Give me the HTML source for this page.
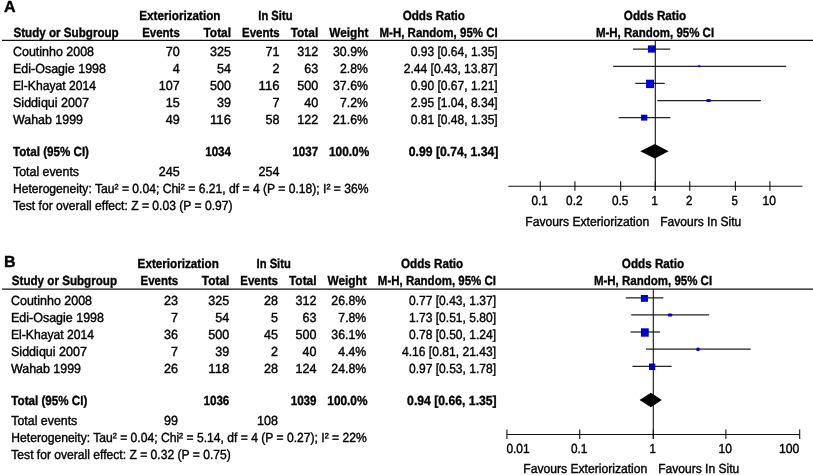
<!DOCTYPE html>
<html><head><meta charset="utf-8"><title>Forest plot</title>
<style>
html,body{margin:0;padding:0;background:#fff;}
body{width:813px;height:475px;overflow:hidden;}
svg{display:block;font-family:"Liberation Sans", Arial, Helvetica, sans-serif;font-size:13.2px;fill:#000;text-rendering:geometricPrecision;}
text{stroke:#000;stroke-width:0.4px;}
text[font-weight=bold]{stroke-width:0.35px;}
</style></head><body>
<svg width="813" height="475" viewBox="0 0 813 475">
<rect width="813" height="475" fill="#fff"/>
<text x="4.00" y="12.00" font-weight="bold" font-size="16">A</text>
<text x="139.30" y="19.70" font-weight="bold" textLength="81.2" lengthAdjust="spacingAndGlyphs">Exteriorization</text>
<text x="258.30" y="19.70" font-weight="bold" textLength="34.2" lengthAdjust="spacingAndGlyphs">In Situ</text>
<text x="433.80" y="19.70" text-anchor="middle" font-weight="bold" textLength="62.3" lengthAdjust="spacingAndGlyphs">Odds Ratio</text>
<text x="655.00" y="19.70" text-anchor="middle" font-weight="bold" textLength="62.3" lengthAdjust="spacingAndGlyphs">Odds Ratio</text>
<text x="13.50" y="36.60" font-weight="bold" textLength="105.2" lengthAdjust="spacingAndGlyphs">Study or Subgroup</text>
<text x="179.80" y="36.60" text-anchor="end" font-weight="bold" textLength="37.6" lengthAdjust="spacingAndGlyphs">Events</text>
<text x="231.00" y="36.60" text-anchor="end" font-weight="bold" textLength="27.5" lengthAdjust="spacingAndGlyphs">Total</text>
<text x="279.60" y="36.60" text-anchor="end" font-weight="bold" textLength="37.6" lengthAdjust="spacingAndGlyphs">Events</text>
<text x="318.20" y="36.60" text-anchor="end" font-weight="bold" textLength="27.5" lengthAdjust="spacingAndGlyphs">Total</text>
<text x="368.40" y="36.60" text-anchor="end" font-weight="bold" textLength="39.1" lengthAdjust="spacingAndGlyphs">Weight</text>
<text x="497.70" y="36.60" text-anchor="end" font-weight="bold" textLength="118.2" lengthAdjust="spacingAndGlyphs">M-H, Random, 95% CI</text>
<text x="655.00" y="36.60" text-anchor="middle" font-weight="bold" textLength="118.2" lengthAdjust="spacingAndGlyphs">M-H, Random, 95% CI</text>
<line x1="2.00" y1="40.40" x2="813.00" y2="40.40" stroke="#111" stroke-width="1.1"/>
<text x="13.00" y="55.80" textLength="81" lengthAdjust="spacingAndGlyphs">Coutinho 2008</text>
<text x="179.80" y="55.80" text-anchor="end" textLength="14" lengthAdjust="spacingAndGlyphs">70</text>
<text x="231.00" y="55.80" text-anchor="end" textLength="21" lengthAdjust="spacingAndGlyphs">325</text>
<text x="279.60" y="55.80" text-anchor="end" textLength="14" lengthAdjust="spacingAndGlyphs">71</text>
<text x="318.20" y="55.80" text-anchor="end" textLength="21" lengthAdjust="spacingAndGlyphs">312</text>
<text x="368.00" y="55.80" text-anchor="end" textLength="35" lengthAdjust="spacingAndGlyphs">30.9%</text>
<text x="497.70" y="55.80" text-anchor="end" textLength="87" lengthAdjust="spacingAndGlyphs">0.93 [0.64, 1.35]</text>
<line x1="633.01" y1="49.00" x2="670.24" y2="49.00" stroke="#222" stroke-width="1.25"/>
<rect x="647.93" y="45.40" width="7.50" height="7.20" fill="#0000cc" rx="0"/>
<text x="13.00" y="72.90" textLength="93" lengthAdjust="spacingAndGlyphs">Edi-Osagie 1998</text>
<text x="179.80" y="72.90" text-anchor="end" textLength="7" lengthAdjust="spacingAndGlyphs">4</text>
<text x="231.00" y="72.90" text-anchor="end" textLength="14" lengthAdjust="spacingAndGlyphs">54</text>
<text x="279.60" y="72.90" text-anchor="end" textLength="7" lengthAdjust="spacingAndGlyphs">2</text>
<text x="318.20" y="72.90" text-anchor="end" textLength="14" lengthAdjust="spacingAndGlyphs">63</text>
<text x="368.00" y="72.90" text-anchor="end" textLength="28" lengthAdjust="spacingAndGlyphs">2.8%</text>
<text x="497.70" y="72.90" text-anchor="end" textLength="94" lengthAdjust="spacingAndGlyphs">2.44 [0.43, 13.87]</text>
<line x1="613.15" y1="66.35" x2="786.18" y2="66.35" stroke="#222" stroke-width="1.25"/>
<rect x="697.69" y="65.35" width="3.00" height="2.00" fill="#0000cc" rx="1"/>
<text x="13.00" y="90.00" textLength="83" lengthAdjust="spacingAndGlyphs">El-Khayat 2014</text>
<text x="179.80" y="90.00" text-anchor="end" textLength="21" lengthAdjust="spacingAndGlyphs">107</text>
<text x="231.00" y="90.00" text-anchor="end" textLength="21" lengthAdjust="spacingAndGlyphs">500</text>
<text x="279.60" y="90.00" text-anchor="end" textLength="21" lengthAdjust="spacingAndGlyphs">116</text>
<text x="318.20" y="90.00" text-anchor="end" textLength="21" lengthAdjust="spacingAndGlyphs">500</text>
<text x="368.00" y="90.00" text-anchor="end" textLength="35" lengthAdjust="spacingAndGlyphs">37.6%</text>
<text x="497.70" y="90.00" text-anchor="end" textLength="87" lengthAdjust="spacingAndGlyphs">0.90 [0.67, 1.21]</text>
<line x1="635.30" y1="83.40" x2="664.79" y2="83.40" stroke="#222" stroke-width="1.25"/>
<rect x="646.04" y="79.70" width="8.00" height="8.40" fill="#0000cc" rx="0"/>
<text x="13.00" y="107.10" textLength="76" lengthAdjust="spacingAndGlyphs">Siddiqui 2007</text>
<text x="179.80" y="107.10" text-anchor="end" textLength="14" lengthAdjust="spacingAndGlyphs">15</text>
<text x="231.00" y="107.10" text-anchor="end" textLength="14" lengthAdjust="spacingAndGlyphs">39</text>
<text x="279.60" y="107.10" text-anchor="end" textLength="7" lengthAdjust="spacingAndGlyphs">7</text>
<text x="318.20" y="107.10" text-anchor="end" textLength="14" lengthAdjust="spacingAndGlyphs">40</text>
<text x="368.00" y="107.10" text-anchor="end" textLength="28" lengthAdjust="spacingAndGlyphs">7.2%</text>
<text x="497.70" y="107.10" text-anchor="end" textLength="87" lengthAdjust="spacingAndGlyphs">2.95 [1.04, 8.34]</text>
<line x1="657.25" y1="100.55" x2="760.87" y2="100.55" stroke="#222" stroke-width="1.25"/>
<rect x="706.14" y="99.05" width="5.00" height="3.00" fill="#0000cc" rx="1.5"/>
<text x="13.00" y="124.20" textLength="70" lengthAdjust="spacingAndGlyphs">Wahab 1999</text>
<text x="179.80" y="124.20" text-anchor="end" textLength="14" lengthAdjust="spacingAndGlyphs">49</text>
<text x="231.00" y="124.20" text-anchor="end" textLength="21" lengthAdjust="spacingAndGlyphs">116</text>
<text x="279.60" y="124.20" text-anchor="end" textLength="14" lengthAdjust="spacingAndGlyphs">58</text>
<text x="318.20" y="124.20" text-anchor="end" textLength="21" lengthAdjust="spacingAndGlyphs">122</text>
<text x="368.00" y="124.20" text-anchor="end" textLength="35" lengthAdjust="spacingAndGlyphs">21.6%</text>
<text x="497.70" y="124.20" text-anchor="end" textLength="87" lengthAdjust="spacingAndGlyphs">0.81 [0.48, 1.35]</text>
<line x1="618.64" y1="117.65" x2="670.24" y2="117.65" stroke="#222" stroke-width="1.25"/>
<rect x="641.03" y="114.70" width="6.30" height="5.90" fill="#0000cc" rx="0"/>
<text x="13.00" y="156.00" font-weight="bold" textLength="76" lengthAdjust="spacingAndGlyphs">Total (95% CI)</text>
<text x="231.00" y="156.00" text-anchor="end" font-weight="bold" textLength="25.8" lengthAdjust="spacingAndGlyphs">1034</text>
<text x="318.20" y="156.00" text-anchor="end" font-weight="bold" textLength="25.8" lengthAdjust="spacingAndGlyphs">1037</text>
<text x="369.20" y="156.00" text-anchor="end" font-weight="bold" textLength="40.2" lengthAdjust="spacingAndGlyphs">100.0%</text>
<text x="498.40" y="156.00" text-anchor="end" font-weight="bold" textLength="89.6" lengthAdjust="spacingAndGlyphs">0.99 [0.74, 1.34]</text>
<polygon points="640.26,151.30 654.80,144.10 668.60,151.30 654.80,158.50" fill="#000"/>
<text x="13.00" y="175.80" textLength="66" lengthAdjust="spacingAndGlyphs">Total events</text>
<text x="179.80" y="175.80" text-anchor="end" textLength="21" lengthAdjust="spacingAndGlyphs">245</text>
<text x="279.60" y="175.80" text-anchor="end" textLength="21" lengthAdjust="spacingAndGlyphs">254</text>
<text x="13.00" y="192.80" textLength="355.5" lengthAdjust="spacingAndGlyphs">Heterogeneity: Tau² = 0.04; Chi² = 6.21, df = 4 (P = 0.18); I² = 36%</text>
<text x="13.00" y="209.80" textLength="219.5" lengthAdjust="spacingAndGlyphs">Test for overall effect: Z = 0.03 (P = 0.97)</text>
<line x1="508.30" y1="186.30" x2="802.40" y2="186.30" stroke="#111" stroke-width="1.1"/>
<line x1="655.30" y1="40.40" x2="655.30" y2="190.70" stroke="#111" stroke-width="1.1"/>
<line x1="540.30" y1="181.30" x2="540.30" y2="190.70" stroke="#111" stroke-width="1.1"/>
<text x="539.70" y="205.00" text-anchor="middle" textLength="16.4" lengthAdjust="spacingAndGlyphs">0.1</text>
<line x1="574.92" y1="181.30" x2="574.92" y2="190.70" stroke="#111" stroke-width="1.1"/>
<text x="574.32" y="205.00" text-anchor="middle" textLength="16.4" lengthAdjust="spacingAndGlyphs">0.2</text>
<line x1="620.68" y1="181.30" x2="620.68" y2="190.70" stroke="#111" stroke-width="1.1"/>
<text x="620.08" y="205.00" text-anchor="middle" textLength="16.4" lengthAdjust="spacingAndGlyphs">0.5</text>
<line x1="655.30" y1="181.30" x2="655.30" y2="190.70" stroke="#111" stroke-width="1.1"/>
<text x="654.70" y="205.00" text-anchor="middle" textLength="6.4" lengthAdjust="spacingAndGlyphs">1</text>
<line x1="689.80" y1="181.30" x2="689.80" y2="190.70" stroke="#111" stroke-width="1.1"/>
<text x="689.20" y="205.00" text-anchor="middle" textLength="6.4" lengthAdjust="spacingAndGlyphs">2</text>
<line x1="735.40" y1="181.30" x2="735.40" y2="190.70" stroke="#111" stroke-width="1.1"/>
<text x="734.80" y="205.00" text-anchor="middle" textLength="6.4" lengthAdjust="spacingAndGlyphs">5</text>
<line x1="769.90" y1="181.30" x2="769.90" y2="190.70" stroke="#111" stroke-width="1.1"/>
<text x="769.30" y="205.00" text-anchor="middle" textLength="13.4" lengthAdjust="spacingAndGlyphs">10</text>
<text x="649.30" y="225.60" text-anchor="end" textLength="124" lengthAdjust="spacingAndGlyphs">Favours Exteriorization</text>
<text x="660.20" y="225.60" textLength="81" lengthAdjust="spacingAndGlyphs">Favours In Situ</text>
<text x="4.00" y="266.50" font-weight="bold" font-size="16">B</text>
<text x="137.60" y="268.40" font-weight="bold" textLength="81.2" lengthAdjust="spacingAndGlyphs">Exteriorization</text>
<text x="256.60" y="268.40" font-weight="bold" textLength="34.2" lengthAdjust="spacingAndGlyphs">In Situ</text>
<text x="432.10" y="268.40" text-anchor="middle" font-weight="bold" textLength="62.3" lengthAdjust="spacingAndGlyphs">Odds Ratio</text>
<text x="653.00" y="268.40" text-anchor="middle" font-weight="bold" textLength="62.3" lengthAdjust="spacingAndGlyphs">Odds Ratio</text>
<text x="11.80" y="285.30" font-weight="bold" textLength="105.2" lengthAdjust="spacingAndGlyphs">Study or Subgroup</text>
<text x="178.10" y="285.30" text-anchor="end" font-weight="bold" textLength="37.6" lengthAdjust="spacingAndGlyphs">Events</text>
<text x="229.30" y="285.30" text-anchor="end" font-weight="bold" textLength="27.5" lengthAdjust="spacingAndGlyphs">Total</text>
<text x="277.90" y="285.30" text-anchor="end" font-weight="bold" textLength="37.6" lengthAdjust="spacingAndGlyphs">Events</text>
<text x="316.50" y="285.30" text-anchor="end" font-weight="bold" textLength="27.5" lengthAdjust="spacingAndGlyphs">Total</text>
<text x="366.70" y="285.30" text-anchor="end" font-weight="bold" textLength="39.1" lengthAdjust="spacingAndGlyphs">Weight</text>
<text x="496.00" y="285.30" text-anchor="end" font-weight="bold" textLength="118.2" lengthAdjust="spacingAndGlyphs">M-H, Random, 95% CI</text>
<text x="653.00" y="285.30" text-anchor="middle" font-weight="bold" textLength="118.2" lengthAdjust="spacingAndGlyphs">M-H, Random, 95% CI</text>
<line x1="2.00" y1="289.10" x2="813.00" y2="289.10" stroke="#111" stroke-width="1.1"/>
<text x="11.00" y="304.50" textLength="81" lengthAdjust="spacingAndGlyphs">Coutinho 2008</text>
<text x="178.10" y="304.50" text-anchor="end" textLength="14" lengthAdjust="spacingAndGlyphs">23</text>
<text x="229.30" y="304.50" text-anchor="end" textLength="21" lengthAdjust="spacingAndGlyphs">325</text>
<text x="277.90" y="304.50" text-anchor="end" textLength="14" lengthAdjust="spacingAndGlyphs">28</text>
<text x="316.50" y="304.50" text-anchor="end" textLength="21" lengthAdjust="spacingAndGlyphs">312</text>
<text x="366.30" y="304.50" text-anchor="end" textLength="35" lengthAdjust="spacingAndGlyphs">26.8%</text>
<text x="496.00" y="304.50" text-anchor="end" textLength="87" lengthAdjust="spacingAndGlyphs">0.77 [0.43, 1.37]</text>
<line x1="625.75" y1="297.90" x2="663.31" y2="297.90" stroke="#222" stroke-width="1.25"/>
<rect x="640.87" y="295.00" width="7.10" height="6.80" fill="#0000cc" rx="0"/>
<text x="11.00" y="321.60" textLength="93" lengthAdjust="spacingAndGlyphs">Edi-Osagie 1998</text>
<text x="178.10" y="321.60" text-anchor="end" textLength="7" lengthAdjust="spacingAndGlyphs">7</text>
<text x="229.30" y="321.60" text-anchor="end" textLength="14" lengthAdjust="spacingAndGlyphs">54</text>
<text x="277.90" y="321.60" text-anchor="end" textLength="7" lengthAdjust="spacingAndGlyphs">5</text>
<text x="316.50" y="321.60" text-anchor="end" textLength="14" lengthAdjust="spacingAndGlyphs">63</text>
<text x="366.30" y="321.60" text-anchor="end" textLength="28" lengthAdjust="spacingAndGlyphs">7.8%</text>
<text x="496.00" y="321.60" text-anchor="end" textLength="87" lengthAdjust="spacingAndGlyphs">1.73 [0.51, 5.80]</text>
<line x1="631.22" y1="314.95" x2="709.18" y2="314.95" stroke="#222" stroke-width="1.25"/>
<rect x="667.92" y="313.45" width="4.40" height="3.00" fill="#0000cc" rx="1.2"/>
<text x="11.00" y="338.70" textLength="83" lengthAdjust="spacingAndGlyphs">El-Khayat 2014</text>
<text x="178.10" y="338.70" text-anchor="end" textLength="14" lengthAdjust="spacingAndGlyphs">36</text>
<text x="229.30" y="338.70" text-anchor="end" textLength="21" lengthAdjust="spacingAndGlyphs">500</text>
<text x="277.90" y="338.70" text-anchor="end" textLength="14" lengthAdjust="spacingAndGlyphs">45</text>
<text x="316.50" y="338.70" text-anchor="end" textLength="21" lengthAdjust="spacingAndGlyphs">500</text>
<text x="366.30" y="338.70" text-anchor="end" textLength="35" lengthAdjust="spacingAndGlyphs">36.1%</text>
<text x="496.00" y="338.70" text-anchor="end" textLength="87" lengthAdjust="spacingAndGlyphs">0.78 [0.50, 1.24]</text>
<line x1="630.58" y1="332.00" x2="660.14" y2="332.00" stroke="#222" stroke-width="1.25"/>
<rect x="640.94" y="328.30" width="7.80" height="8.40" fill="#0000cc" rx="0"/>
<text x="11.00" y="355.80" textLength="76" lengthAdjust="spacingAndGlyphs">Siddiqui 2007</text>
<text x="178.10" y="355.80" text-anchor="end" textLength="7" lengthAdjust="spacingAndGlyphs">7</text>
<text x="229.30" y="355.80" text-anchor="end" textLength="14" lengthAdjust="spacingAndGlyphs">39</text>
<text x="277.90" y="355.80" text-anchor="end" textLength="7" lengthAdjust="spacingAndGlyphs">2</text>
<text x="316.50" y="355.80" text-anchor="end" textLength="14" lengthAdjust="spacingAndGlyphs">40</text>
<text x="366.30" y="355.80" text-anchor="end" textLength="28" lengthAdjust="spacingAndGlyphs">4.4%</text>
<text x="496.00" y="355.80" text-anchor="end" textLength="94" lengthAdjust="spacingAndGlyphs">4.16 [0.81, 21.43]</text>
<line x1="646.05" y1="349.20" x2="750.73" y2="349.20" stroke="#222" stroke-width="1.25"/>
<rect x="696.22" y="347.50" width="3.60" height="3.40" fill="#0000cc" rx="1.5"/>
<text x="11.00" y="372.90" textLength="70" lengthAdjust="spacingAndGlyphs">Wahab 1999</text>
<text x="178.10" y="372.90" text-anchor="end" textLength="14" lengthAdjust="spacingAndGlyphs">26</text>
<text x="229.30" y="372.90" text-anchor="end" textLength="21" lengthAdjust="spacingAndGlyphs">118</text>
<text x="277.90" y="372.90" text-anchor="end" textLength="14" lengthAdjust="spacingAndGlyphs">28</text>
<text x="316.50" y="372.90" text-anchor="end" textLength="21" lengthAdjust="spacingAndGlyphs">124</text>
<text x="366.30" y="372.90" text-anchor="end" textLength="35" lengthAdjust="spacingAndGlyphs">24.8%</text>
<text x="496.00" y="372.90" text-anchor="end" textLength="87" lengthAdjust="spacingAndGlyphs">0.97 [0.53, 1.78]</text>
<line x1="632.45" y1="366.30" x2="671.63" y2="366.30" stroke="#222" stroke-width="1.25"/>
<rect x="649.02" y="363.50" width="6.20" height="6.60" fill="#0000cc" rx="0"/>
<text x="11.30" y="404.70" font-weight="bold" textLength="76" lengthAdjust="spacingAndGlyphs">Total (95% CI)</text>
<text x="229.30" y="404.70" text-anchor="end" font-weight="bold" textLength="25.8" lengthAdjust="spacingAndGlyphs">1036</text>
<text x="316.50" y="404.70" text-anchor="end" font-weight="bold" textLength="25.8" lengthAdjust="spacingAndGlyphs">1039</text>
<text x="367.50" y="404.70" text-anchor="end" font-weight="bold" textLength="40.2" lengthAdjust="spacingAndGlyphs">100.0%</text>
<text x="496.70" y="404.70" text-anchor="end" font-weight="bold" textLength="89.6" lengthAdjust="spacingAndGlyphs">0.94 [0.66, 1.35]</text>
<polygon points="639.60,400.00 650.90,392.80 661.80,400.00 650.90,407.20" fill="#000"/>
<text x="11.30" y="424.50" textLength="66" lengthAdjust="spacingAndGlyphs">Total events</text>
<text x="178.10" y="424.50" text-anchor="end" textLength="14" lengthAdjust="spacingAndGlyphs">99</text>
<text x="277.90" y="424.50" text-anchor="end" textLength="21" lengthAdjust="spacingAndGlyphs">108</text>
<text x="11.30" y="441.50" textLength="355.5" lengthAdjust="spacingAndGlyphs">Heterogeneity: Tau² = 0.04; Chi² = 5.14, df = 4 (P = 0.27); I² = 22%</text>
<text x="11.30" y="458.50" textLength="219.5" lengthAdjust="spacingAndGlyphs">Test for overall effect: Z = 0.32 (P = 0.75)</text>
<line x1="506.90" y1="434.50" x2="799.80" y2="434.50" stroke="#111" stroke-width="1.1"/>
<line x1="653.30" y1="289.10" x2="653.30" y2="438.90" stroke="#111" stroke-width="1.1"/>
<line x1="506.90" y1="429.50" x2="506.90" y2="438.90" stroke="#111" stroke-width="1.1"/>
<text x="506.40" y="453.40" textLength="23.2" lengthAdjust="spacingAndGlyphs">0.01</text>
<line x1="579.70" y1="429.50" x2="579.70" y2="438.90" stroke="#111" stroke-width="1.1"/>
<text x="579.10" y="453.40" text-anchor="middle" textLength="16.4" lengthAdjust="spacingAndGlyphs">0.1</text>
<line x1="653.30" y1="429.50" x2="653.30" y2="438.90" stroke="#111" stroke-width="1.1"/>
<text x="652.70" y="453.40" text-anchor="middle" textLength="6.4" lengthAdjust="spacingAndGlyphs">1</text>
<line x1="725.90" y1="429.50" x2="725.90" y2="438.90" stroke="#111" stroke-width="1.1"/>
<text x="725.30" y="453.40" text-anchor="middle" textLength="13.4" lengthAdjust="spacingAndGlyphs">10</text>
<line x1="799.70" y1="429.50" x2="799.70" y2="438.90" stroke="#111" stroke-width="1.1"/>
<text x="799.40" y="453.40" text-anchor="end" textLength="20.4" lengthAdjust="spacingAndGlyphs">100</text>
<text x="647.30" y="473.30" text-anchor="end" textLength="124" lengthAdjust="spacingAndGlyphs">Favours Exteriorization</text>
<text x="658.20" y="473.30" textLength="81" lengthAdjust="spacingAndGlyphs">Favours In Situ</text>
</svg>
</body></html>
